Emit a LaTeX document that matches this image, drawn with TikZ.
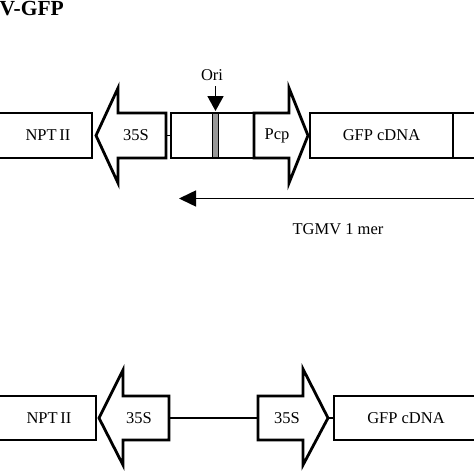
\documentclass[tikz,border=0pt]{standalone}
\usepackage{fontspec}
\setmainfont{Liberation Serif}
\usetikzlibrary{arrows.meta}
\tikzset{
  part/.style={draw=black, line width=2.8pt, fill=white, line join=miter},
  lbl/.style={inner sep=0pt, font=\fontsize{16.5}{18}\selectfont},
  thinline/.style={draw=black, line width=1.4pt},
}
\begin{document}
\begin{tikzpicture}[x=1pt,y=-1pt]
\useasboundingbox (0,0) rectangle (474,474);
\clip (0,0) rectangle (474,474);
% title
\node[anchor=north west, inner sep=0pt, font=\fontsize{21.5}{24}\selectfont\bfseries] (title) at (-0.5,1) {V-GFP};

% ---------- top construct ----------
\draw[part] (-5,113) rectangle (92,158);
\node[lbl] (npt1) at (48,135.5) {NPT\,II};
\draw[thinline] (166,135.5) -- (171,135.5);
\draw[part] (166,113) -- (118,113) -- (118,88) -- (96,135.5) -- (118,183) -- (118,158) -- (166,158) -- cycle;
\node[lbl] (s35a) at (136,135.5) {35S};
\draw[part] (171,113) rectangle (254,158);
\draw[draw=black, line width=1.8pt, fill=gray!80] (212.5,113) rectangle (218.5,158);
\node[lbl] (ori) at (212,75) {Ori};
\coordinate (oritop) at (215.5,86);
\coordinate (oribot) at (215.5,111);
\draw[line width=1.8pt, -{Triangle[length=15pt,width=16pt]}] (oritop) -- (oribot);
\draw[part] (310,113) rectangle (453,158);
\node[lbl] (gfp1) at (381.5,135.5) {GFP cDNA};
\draw[part] (453,113) rectangle (480,158);
\draw[part] (254,113) -- (289,113) -- (289,88) -- (308,135.5) -- (289,183) -- (289,158) -- (254,158) -- cycle;
\node[lbl] (pcp) at (277,135.5) {Pcp};

\coordinate (tgR) at (480,198.5);
\coordinate (tgL) at (179,198.5);
\draw[line width=1.5pt, -{Triangle[length=17pt,width=16pt]}] (tgR) -- (tgL);
\node[lbl] (tgmv) at (338,229) {TGMV 1 mer};

% ---------- bottom construct ----------
\draw[part] (-5,396) rectangle (96,440);
\node[lbl] (npt2) at (49,418) {NPT\,II};
\coordinate (lnA) at (169,418);
\coordinate (lnB) at (258,418);
\draw[thinline] (lnA) -- (lnB);
\draw[part] (169,396) -- (123,396) -- (123,370) -- (99,418) -- (123,465) -- (123,440) -- (169,440) -- cycle;
\node[lbl] (s35b) at (139,418) {35S};
\draw[part] (258,396) -- (303,396) -- (303,369) -- (328,418) -- (303,465) -- (303,440) -- (258,440) -- cycle;
\node[lbl] (s35c) at (287,418) {35S};
\draw[thinline] (328,418) -- (334,418);
\draw[part] (334,396) rectangle (480,440);
\node[lbl] (gfp2) at (406,418) {GFP cDNA};
\end{tikzpicture}
\end{document}
